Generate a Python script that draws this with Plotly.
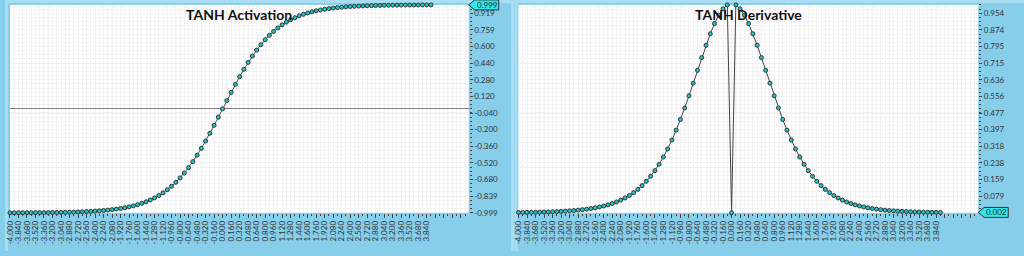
import numpy as np
import plotly.graph_objects as go

# ---------------- data ----------------
x_vals = [round(-4.0 + 0.08 * k, 2) for k in range(100)]  # -4.00 .. 3.92

tanh_vals = [
    -0.99933, -0.99921, -0.99907, -0.99891, -0.99872, -0.99850, -0.99824, -0.99794, -0.99759, -0.99717,
    -0.99668, -0.99611, -0.99543, -0.99465, -0.99372, -0.99263, -0.99136, -0.98987, -0.98811, -0.98608,
    -0.98367, -0.98087, -0.97759, -0.97375, -0.96926, -0.96403, -0.95792, -0.95080, -0.94250, -0.93285,
    -0.92167, -0.90871, -0.89371, -0.87640, -0.85649, -0.83365, -0.80757, -0.77789, -0.74427, -0.70642,
    -0.66404, -0.61691, -0.56490, -0.50798, -0.44625, -0.37995, -0.30951, -0.23550, -0.15865, -0.07983,
    0.0,
    0.07983, 0.15865, 0.23550, 0.30951, 0.37995, 0.44625, 0.50798, 0.56490, 0.61691, 0.66404,
    0.70642, 0.74427, 0.77789, 0.80757, 0.83365, 0.85649, 0.87640, 0.89371, 0.90871, 0.92167,
    0.93285, 0.94250, 0.95080, 0.95792, 0.96403, 0.96926, 0.97375, 0.97759, 0.98087, 0.98367,
    0.98608, 0.98811, 0.98987, 0.99136, 0.99263, 0.99372, 0.99465, 0.99543, 0.99611, 0.99668,
    0.99717, 0.99759, 0.99794, 0.99824, 0.99850, 0.99872, 0.99891, 0.99907, 0.99921,
]

deriv_vals = [
    0.00134, 0.00158, 0.00186, 0.00218, 0.00256, 0.00300, 0.00351, 0.00411, 0.00481, 0.00565,
    0.00663, 0.00777, 0.00912, 0.01067, 0.01252, 0.01469, 0.01720, 0.02016, 0.02364, 0.02765,
    0.03239, 0.03789, 0.04432, 0.05181, 0.06053, 0.07065, 0.08239, 0.09598, 0.11169, 0.12979,
    0.15052, 0.17424, 0.20128, 0.23192, 0.26642, 0.30503, 0.34783, 0.39489, 0.44606, 0.50097,
    0.55905, 0.61942, 0.68089, 0.74196, 0.80086, 0.85564, 0.90420, 0.94454, 0.97483, 0.99363,
    0.0,
    0.99363, 0.97483, 0.94454, 0.90420, 0.85564, 0.80086, 0.74196, 0.68089, 0.61942, 0.55905,
    0.50097, 0.44606, 0.39489, 0.34783, 0.30503, 0.26642, 0.23192, 0.20128, 0.17424, 0.15052,
    0.12979, 0.11169, 0.09598, 0.08239, 0.07065, 0.06053, 0.05181, 0.04432, 0.03789, 0.03239,
    0.02765, 0.02364, 0.02016, 0.01720, 0.01469, 0.01252, 0.01067, 0.00912, 0.00777, 0.00663,
    0.00565, 0.00481, 0.00411, 0.00351, 0.00300, 0.00256, 0.00218, 0.00186, 0.00158,
]

x_tick_vals = [round(-4.0 + 0.16 * k, 2) for k in range(50)]          # -4.000 .. 3.840
x_tick_text = ["%.3f" % v for v in x_tick_vals]
x_extra_ticks = [4.0, 4.16, 4.32, 4.48]

y1_tick_vals = [-0.9993, -0.8394, -0.6796, -0.5197, -0.3598, -0.2000, -0.0401,
                0.1198, 0.2797, 0.4395, 0.5994, 0.7593, 0.9191]
y1_tick_text = ["-0.999", "-0.839", "-0.680", "-0.520", "-0.360", "-0.200", "-0.040",
                "0.120", "0.280", "0.440", "0.600", "0.759", "0.919"]
y2_tick_vals = [0.0795, 0.1590, 0.2385, 0.3180, 0.3974, 0.4769, 0.5564, 0.6359,
                0.7154, 0.7949, 0.8744, 0.9539]
y2_tick_text = ["0.079", "0.159", "0.238", "0.318", "0.397", "0.477", "0.556", "0.636",
                "0.715", "0.795", "0.874", "0.954"]

titles = ["TANH Activation", "TANH Derivative"]
callout_text = ["0.999", "0.002"]

# ---------------- layout helpers ----------------
W, H = 1024, 256
def px(xp):
    return xp / W
def py(yp):
    return (H - yp) / H

dom_x1 = [px(5), px(466)]
dom_x2 = [px(516), px(978)]
dom_y = [py(217), py(5)]

y1_range = [-0.99933, 0.99933]
y2_range = [0.0, 0.99363]
x_range = [-4.0, 4.63]

FONT = "Lato"
GRID = "#f1f1f1"
TICKC = "#444444"

fig = go.Figure()

marker = dict(size=4, color="#1cc8c8", line=dict(color="#333333", width=1))
fig.add_trace(go.Scatter(x=x_vals, y=tanh_vals, mode="lines+markers",
                         line=dict(color="#555555", width=1), marker=marker,
                         xaxis="x", yaxis="y", showlegend=False, cliponaxis=False))
fig.add_trace(go.Scatter(x=x_vals, y=deriv_vals, mode="lines+markers",
                         line=dict(color="#444444", width=1), marker=marker,
                         xaxis="x2", yaxis="y2", showlegend=False, cliponaxis=False))

def xaxis_cfg(domain, anchor):
    return dict(
        domain=domain, anchor=anchor, range=x_range,
        tickmode="array",
        tickvals=x_tick_vals + x_extra_ticks,
        ticktext=x_tick_text + [""] * len(x_extra_ticks),
        tickangle=-90, ticks="outside", ticklen=4, tickwidth=1, tickcolor=TICKC,
        tickfont=dict(family=FONT, size=8, color="#333333"),
        showgrid=True, gridcolor=GRID, gridwidth=1,
        minor=dict(tickmode="linear", tick0=-4.0, dtick=0.08, ticks="outside",
                   ticklen=2, tickcolor=TICKC, showgrid=True, gridcolor=GRID),
        zeroline=False, showline=False, fixedrange=True,
    )

def yaxis_cfg(anchor, rng, tv, tt, zl):
    step = (rng[1] - rng[0]) / 12.5
    return dict(
        domain=dom_y, anchor=anchor, side="right", range=rng,
        tickmode="array", tickvals=tv, ticktext=tt,
        ticks="outside", ticklen=3, tickwidth=1, tickcolor=TICKC,
        tickfont=dict(family=FONT, size=8, color="#333333"),
        showgrid=True, gridcolor=GRID, gridwidth=1,
        minor=dict(tickmode="linear", tick0=rng[0], dtick=step / 4, ticks="outside",
                   ticklen=2, tickcolor=TICKC, showgrid=True, gridcolor=GRID),
        zeroline=zl, zerolinecolor="#7f7f7f", zerolinewidth=1,
        showline=False, fixedrange=True,
    )

shapes = []
annotations = []

FRAME = "#a9def2"
# panel frames: left edge, top edge, separator
for x0, x1, y0, y1 in [(1.5, 1.5, 0, 256), (0, 1024, 1.5, 1.5), (510, 510, 0, 256),
                       (513.5, 513.5, 0, 256)]:
    shapes.append(dict(type="line", xref="paper", yref="paper",
                       x0=px(x0), x1=px(x1), y0=py(y0), y1=py(y1),
                       line=dict(color=FRAME, width=3), layer="below"))

# titles
for t, dom in zip(titles, [dom_x1, dom_x2]):
    annotations.append(dict(text="<b>%s</b>" % t, xref="paper", yref="paper",
                            x=(dom[0] + dom[1]) / 2, y=py(15), xanchor="center",
                            yanchor="middle", showarrow=False,
                            font=dict(family=FONT, size=14, color="#111111")))

# callouts (last-point value markers on the right axis)
for dom, rng, vals, txt in [(dom_x1, y1_range, tanh_vals, callout_text[0]),
                            (dom_x2, y2_range, deriv_vals, callout_text[1])]:
    v = vals[-1]
    yp = dom_y[0] + (v - rng[0]) / (rng[1] - rng[0]) * (dom_y[1] - dom_y[0])
    shapes.append(dict(type="path", xref="paper", yref="paper",
                       xsizemode="pixel", ysizemode="pixel",
                       xanchor=dom[1], yanchor=yp,
                       path="M 0 0 L 6 5 L 30 5 L 30 -5 L 6 -5 Z",
                       fillcolor="#2ee8ec", line=dict(color="#333333", width=1),
                       layer="above"))
    annotations.append(dict(text=txt, xref="paper", yref="paper",
                            x=dom[1], y=yp, xanchor="left", yanchor="middle",
                            xshift=6, showarrow=False,
                            font=dict(family=FONT, size=8, color="#222222")))

fig.update_layout(
    width=W, height=H,
    margin=dict(l=0, r=0, t=0, b=0),
    paper_bgcolor="#87CEEB",
    plot_bgcolor="#ffffff",
    xaxis=xaxis_cfg(dom_x1, "y"),
    yaxis=yaxis_cfg("x", y1_range, y1_tick_vals, y1_tick_text, True),
    xaxis2=xaxis_cfg(dom_x2, "y2"),
    yaxis2=yaxis_cfg("x2", y2_range, y2_tick_vals, y2_tick_text, False),
    shapes=shapes,
    annotations=annotations,
    showlegend=False,
)

fig.write_html("out.html", config={"displayModeBar": False})
